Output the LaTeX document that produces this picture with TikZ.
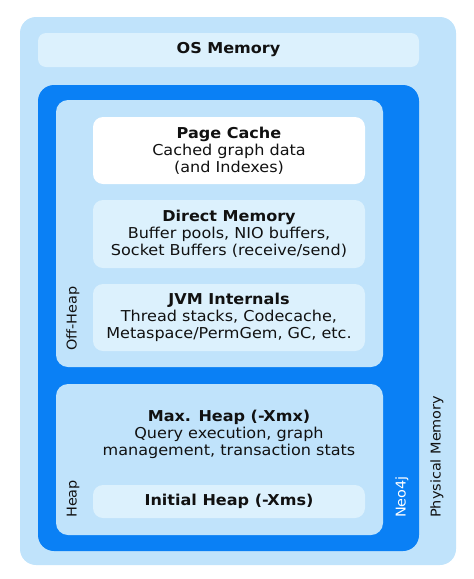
\documentclass[tikz,border=0pt]{standalone}
\usepackage{fontspec}
\setmainfont[FakeStretch=1.07]{DejaVu Sans}
\definecolor{physblue}{HTML}{C0E3FB}
\definecolor{paleblue}{HTML}{DCF1FD}
\definecolor{neoblue}{HTML}{0A80F5}
\definecolor{inkgray}{HTML}{111111}

\begin{document}
\begin{tikzpicture}[x=1pt,y=-1pt,
    box/.style={rounded corners=10pt, inner sep=0pt},
    txt/.style={align=center, text=inkgray, font=\fontsize{15}{17}\selectfont},
    side/.style={rotate=90, anchor=mid west, inner sep=0pt, text=inkgray, font=\fontsize{13.5}{16}\selectfont}]
  \useasboundingbox (0,0) rectangle (474,579);

  % outer containers
  \node[box, rounded corners=16pt, fill=physblue, minimum width=436pt, minimum height=548pt] (physical) at (238,291) {};
  \node[box, rounded corners=8pt, fill=paleblue, minimum width=381pt, minimum height=34pt, txt] (osmem) at (228.5,50) {\textbf{OS Memory}};
  \node[box, rounded corners=16pt, fill=neoblue, minimum width=381pt, minimum height=466pt] (neo) at (228.5,318) {};

  % off-heap
  \node[box, rounded corners=12pt, fill=physblue, minimum width=327pt, minimum height=267pt] (offheap) at (219.5,233.5) {};
  \node[box, fill=white, minimum width=272pt, minimum height=67pt, txt] (pagecache) at (229,150.5)
    {\textbf{Page Cache}\\Cached graph data\\(and Indexes)};
  \node[box, fill=paleblue, minimum width=272pt, minimum height=68pt, txt] (direct) at (229,234)
    {\textbf{Direct Memory}\\Buffer pools, NIO buffers,\\Socket Buffers (receive/send)};
  \node[box, fill=paleblue, minimum width=272pt, minimum height=67pt, txt] (jvm) at (229,317.5)
    {\textbf{JVM Internals}\\Thread stacks, Codecache,\\Metaspace/PermGem, GC, etc.};

  % heap
  \node[box, rounded corners=12pt, fill=physblue, minimum width=327pt, minimum height=151pt] (heap) at (219.5,459.5) {};
  \node[txt] (maxheap) at (229,434)
    {\textbf{Max. Heap (-Xmx)}\\Query execution, graph\\management, transaction stats};
  \node[box, fill=paleblue, minimum width=272pt, minimum height=33pt, txt] (initheap) at (229,501.5)
    {\textbf{Initial Heap (-Xms)}};

  % side labels
  \node[side] (offlabel) at (74,351) {Off-Heap};
  \node[side] (heaplabel) at (74,518) {Heap};
  \node[side, text=white] (neolabel) at (403,518) {Neo4j};
  \node[side] (physlabel) at (438,518) {Physical Memory};
\end{tikzpicture}
\end{document}
